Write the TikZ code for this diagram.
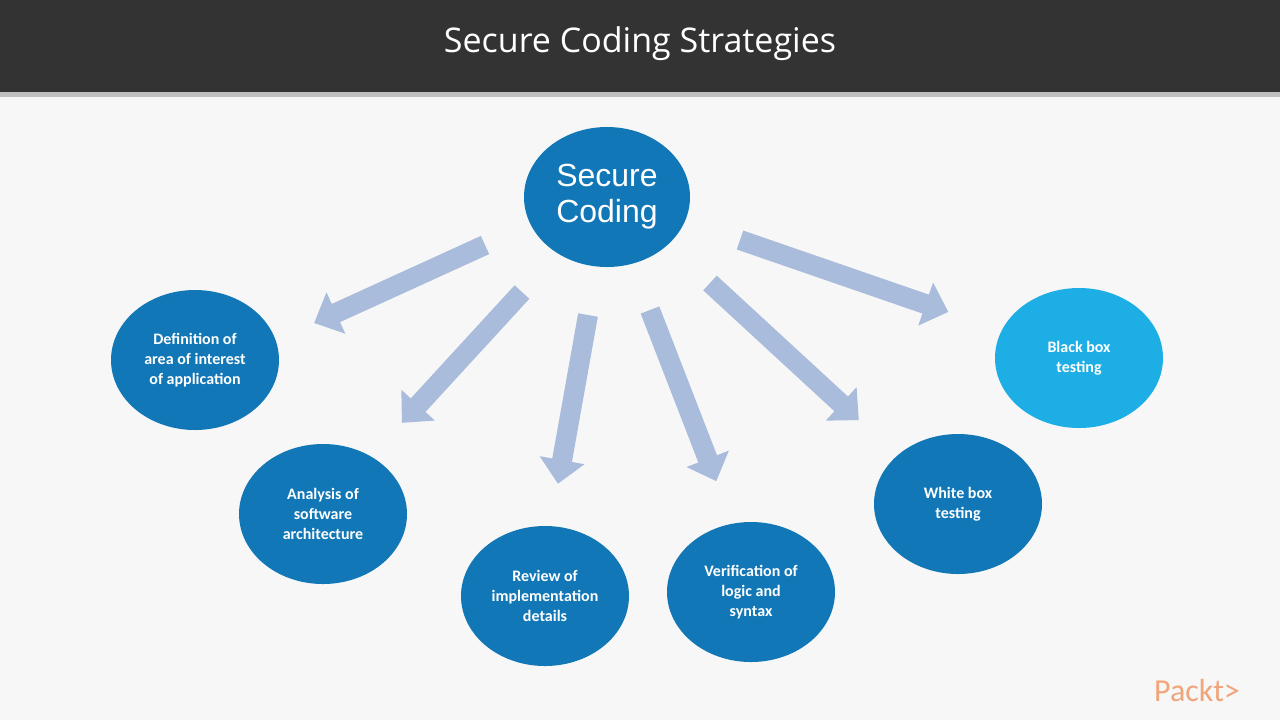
\documentclass[tikz,border=0pt]{standalone}
\usepackage{fontspec}
\setmainfont{Carlito}
\newfontfamily\arialfont{Liberation Sans}
\newfontfamily\titlefont{Open Sans}
\usetikzlibrary{arrows.meta}
\definecolor{bluenode}{HTML}{1277B6}
\definecolor{lightnode}{HTML}{1DAEE6}
\definecolor{arrowblue}{HTML}{AABCDC}
\definecolor{titlebar}{HTML}{333333}
\definecolor{packt}{HTML}{F0A57A}
\tikzset{
 stratnode/.style={ellipse, fill=bluenode, minimum width=84pt, minimum height=70pt, inner sep=0pt,
   text=white, font=\bfseries\fontsize{8}{10}\selectfont, align=center},
 bigarrow/.style={draw=arrowblue, line width=10pt, -{Triangle[length=12pt,width=22pt]}, shorten >=-6pt}
}
\usetikzlibrary{shapes.geometric}
\begin{document}
\begin{tikzpicture}[x=0.5pt,y=-0.5pt]
 \useasboundingbox (0,0) rectangle (1280,720);
 \fill[white!97!black] (0,0) rectangle (1280,720);
 \fill[black!25] (0,92) rectangle (1280,97);
 \fill[titlebar] (0,0) rectangle (1280,92);
 \node[text=white, font=\titlefont\fontsize{17}{20}\selectfont] (title) at (640,44) {Secure Coding Strategies};

 %Nodes
 \node[stratnode, minimum width=83pt, font=\arialfont\fontsize{16}{18}\selectfont] (secure) at (607,197) {Secure\\Coding};
 \node[stratnode] (defin) at (195,360) {Definition of\\area of interest\\of application};
 \node[stratnode] (analysis) at (323,514) {Analysis of\\software\\architecture};
 \node[stratnode] (review) at (545,596) {Review of\\implementation\\details};
 \node[stratnode] (verif) at (751,592) {Verification of\\logic and\\syntax};
 \node[stratnode] (white) at (958,504) {White box\\testing};
 \node[stratnode, fill=lightnode] (black) at (1079,358) {Black box\\testing};

 %Arrow ends
 \coordinate (a1s) at (485,245); \coordinate (a1e) at (325,318);
 \coordinate (a2s) at (522,292); \coordinate (a2e) at (410,414);
 \coordinate (a3s) at (588,315); \coordinate (a3e) at (560,472);
 \coordinate (a4s) at (650,310); \coordinate (a4e) at (712,470);
 \coordinate (a5s) at (710,283); \coordinate (a5e) at (850,412);
 \coordinate (a6s) at (740,240); \coordinate (a6e) at (937,308);

 %Arrows
 \draw[bigarrow] (a1s) -- (a1e);
 \draw[bigarrow] (a2s) -- (a2e);
 \draw[bigarrow] (a3s) -- (a3e);
 \draw[bigarrow] (a4s) -- (a4e);
 \draw[bigarrow] (a5s) -- (a5e);
 \draw[bigarrow] (a6s) -- (a6e);

 \node[text=packt, font=\fontsize{16}{18}\selectfont] (logo) at (1197,690) {Packt>};
\end{tikzpicture}
\end{document}
